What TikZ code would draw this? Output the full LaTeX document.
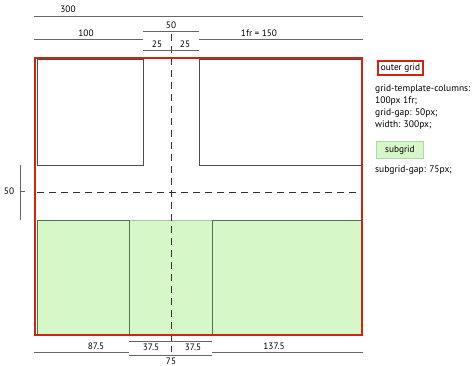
\documentclass[tikz,border=0pt]{standalone}
\usepackage{fontspec}
\setmainfont{PT Sans}
\begin{document}
\begin{tikzpicture}[x=1pt,y=-1pt,
  lbl/.style={inner sep=0pt,font=\fontsize{9.3}{11}\selectfont,text=black},
  dim/.style={draw=black!60,line width=1pt},
  cell/.style={draw=black!70,line width=0.9pt},
  gcell/.style={draw=black!60!green!40!gray,line width=0.9pt,fill=subg},
  guide/.style={draw=black!80,line width=0.9pt,dash pattern=on 7pt off 5pt},
  legtxt/.style={inner sep=0pt,anchor=west,font=\fontsize{9.5}{11}\selectfont,text=black}]
\definecolor{outred}{RGB}{208,36,18}
\definecolor{subg}{RGB}{214,248,200}
\useasboundingbox (0,0) rectangle (474,366);
% green subgrid area
\fill[subg] (37,220) rectangle (361,334);
\draw[black!20!subg,line width=0.6pt] (129,220) -- (212,220);
\draw[gcell] (37,220) rectangle (129,334);
\draw[gcell] (212,220) rectangle (361,334);
% top cells
\draw[cell] (37,59) rectangle (143,165);
\draw[cell] (199,59) rectangle (361,165);
% guides
\draw[guide] (37,192) -- (361,192);
\coordinate (vt) at (171,34);
\coordinate (vb) at (171,352);
\draw[guide] (vt) -- (vb);
% outer border
\draw[outred,line width=2.8pt] (35,58) rectangle (362,335);
% top dimensions
\draw[dim] (34,17) -- (363,17);
\node[lbl] (l300) at (68,9) {300};
\draw[dim] (34,40) -- (143,40);
\node[lbl] (l100) at (86,33) {100};
\draw[dim] (199,40) -- (363,40);
\node[lbl] (lfr) at (259,33) {1fr = 150};
\draw[dim] (143,32) -- (199,32);
\node[lbl] (l50) at (171,25) {50};
\draw[dim] (143,51) -- (199,51);
\node[lbl] (l25a) at (157,44) {25};
\node[lbl] (l25b) at (185,44) {25};
% bottom dimensions
\draw[dim] (34,352) -- (129,352);
\node[lbl] (l875) at (96,346) {87.5};
\draw[dim] (212,352) -- (363,352);
\node[lbl] (l1375) at (274,346) {137.5};
\draw[dim] (129,341) -- (212,341);
\node[lbl] (l375a) at (151,347) {37.5};
\node[lbl] (l375b) at (193,347) {37.5};
\draw[dim] (129,355) -- (212,355);
\node[lbl] (l75) at (171,361) {75};
% left dimension
\draw[dim] (20,165) -- (20,220);
\draw[dim] (20,192) -- (25,192);
\node[lbl] (l50l) at (9,191) {50};
% legend
\node[draw=outred,line width=1.9pt,inner xsep=3pt,inner ysep=3pt,font=\fontsize{9.3}{11}\selectfont,anchor=west] (og) at (377,68) {outer grid};
\node[legtxt] (t1) at (375,89) {grid-template-columns:};
\node[legtxt] (t2) at (375,101) {100px 1fr;};
\node[legtxt] (t3) at (375,113) {grid-gap: 50px;};
\node[legtxt] (t4) at (375,125) {width: 300px;};
\node[draw=black!15!subg,fill=subg,line width=0.8pt,minimum width=47pt,minimum height=17pt,font=\fontsize{9.3}{11}\selectfont,anchor=west] (sg) at (376,150) {subgrid};
\node[legtxt] (t5) at (375,170) {subgrid-gap: 75px;};
\end{tikzpicture}
\end{document}
